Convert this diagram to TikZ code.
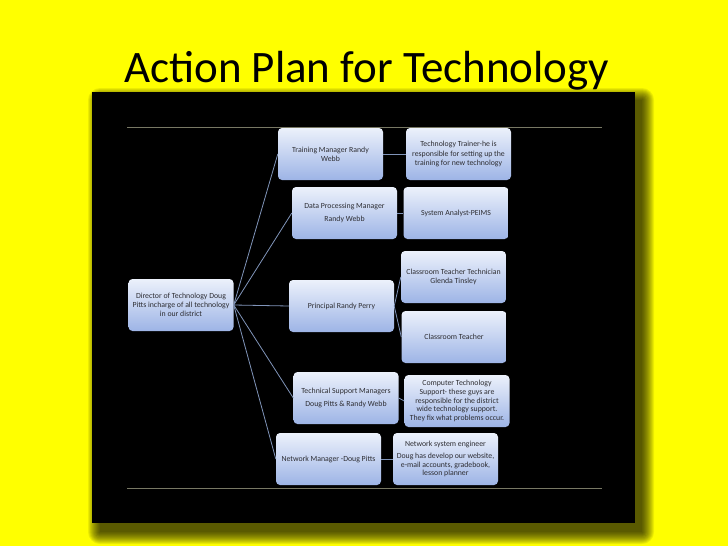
\documentclass[tikz,border=0pt]{standalone}
\usepackage{fontspec}
\setmainfont{Carlito}
\definecolor{slideyellow}{RGB}{255,255,0}
\definecolor{boxtop}{RGB}{236,241,251}
\definecolor{boxbot}{RGB}{157,180,230}
\definecolor{boxtext}{RGB}{45,45,50}
\definecolor{conn}{RGB}{128,148,185}
\definecolor{rule}{RGB}{120,120,100}
\tikzset{
  orgbox/.style={rounded corners=4pt, top color=boxtop, bottom color=boxbot,
    minimum width=105pt, minimum height=52pt, inner sep=1.5pt, align=center,
    text=boxtext, font=\fontsize{7.8}{9.2}\selectfont},
  link/.style={draw=conn, line width=0.8pt}
}
\begin{document}
\begin{tikzpicture}[x=1pt,y=-1pt]
\fill[slideyellow] (0,0) rectangle (728,546);
\useasboundingbox (0,0) rectangle (728,546);
% shadow
\foreach \i in {0,1,...,12}{
  \fill[black, opacity=0.075, rounded corners=\i pt] (100-\i,100-\i) rectangle (642+\i,532+\i);
}
\fill[black] (92,92) rectangle (635,523);
% title
\node[anchor=base west, inner sep=0pt, font=\fontsize{45}{52}\selectfont] (title) at (124,82) {Action Plan for Technology};
% rules
\coordinate (r1a) at (127,127); \coordinate (r1b) at (602,127);
\coordinate (r2a) at (127,488); \coordinate (r2b) at (602,488);
\draw[rule, line width=0.6pt] (r1a) -- (r1b);
\draw[rule, line width=0.6pt] (r2a) -- (r2b);
% nodes
\node[orgbox] (dir) at (181,305) {Director of Technology Doug\\Pitts incharge of all technology\\in our district};
\node[orgbox] (tm) at (330.5,154) {Training Manager Randy\\Webb};
\node[orgbox] (tt) at (458.5,154) {Technology Trainer-he is\\responsible for setting up the\\training for new technology};
\node[orgbox] (dp) at (344.5,213) {Data Processing Manager\\[3pt]Randy Webb};
\node[orgbox] (sa) at (456,213) {System Analyst-PEIMS};
\node[orgbox] (pr) at (341.5,306) {Principal Randy Perry};
\node[orgbox] (ctt) at (453.5,277) {Classroom Teacher Technician\\Glenda Tinsley};
\node[orgbox] (ct) at (454,337) {Classroom Teacher};
\node[orgbox] (ts) at (346,398) {Technical Support Managers\\[3pt]Doug Pitts \& Randy Webb};
\node[orgbox, font=\fontsize{7.8}{8.6}\selectfont] (cts) at (457,401) {Computer Technology\\Support- these guys are\\responsible for the district\\wide technology support.\\They fix what problems occur.};
\node[orgbox, font=\fontsize{7.8}{8.4}\selectfont] (nm) at (328.5,459) {Network Manager -Doug Pitts};
\node[orgbox, font=\fontsize{7.8}{8.4}\selectfont] (ne) at (445.5,459) {Network system engineer\\[4pt]Doug has develop our website,\\e-mail accounts, gradebook,\\lesson planner};
% connectors
\draw[link] (dir.east) -- (tm.west);
\draw[link] (dir.east) -- (dp.west);
\draw[link] (dir.east) -- (pr.west);
\draw[link] (dir.east) -- (ts.west);
\draw[link] (dir.east) -- (nm.west);
\draw[link] (tm.east) -- (tt.west);
\draw[link] (dp.east) -- (sa.west);
\draw[link] (pr.east) -- (ctt.west);
\draw[link] (pr.east) -- (ct.west);
\draw[link] (ts.east) -- (cts.west);
\draw[link] (nm.east) -- (ne.west);
\end{tikzpicture}
\end{document}
